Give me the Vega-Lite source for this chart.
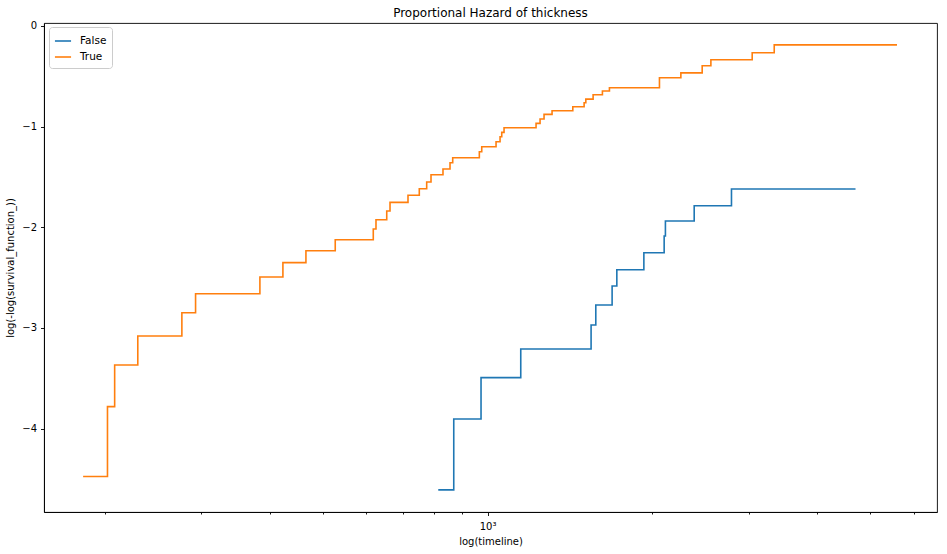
{
  "$schema": "https://vega.github.io/schema/vega-lite/v6.json",
  "width": 893,
  "height": 489,
  "autosize": "none",
  "padding": {"left": 44, "top": 23, "right": 10, "bottom": 42},
  "background": "white",
  "title": {
    "text": "Proportional Hazard of thickness",
    "fontSize": 12,
    "fontWeight": "normal",
    "font": "DejaVu Sans",
    "color": "black",
    "offset": 1
  },
  "data": {
    "values": [
      {"group": "False", "t": 812.9, "v": -4.608},
      {"group": "False", "t": 867.6, "v": -3.904},
      {"group": "False", "t": 973.0, "v": -3.494},
      {"group": "False", "t": 1149.8, "v": -3.209},
      {"group": "False", "t": 1545.3, "v": -2.971},
      {"group": "False", "t": 1576.2, "v": -2.772},
      {"group": "False", "t": 1688.1, "v": -2.584},
      {"group": "False", "t": 1721.9, "v": -2.422},
      {"group": "False", "t": 1929.1, "v": -2.253},
      {"group": "False", "t": 2100.9, "v": -2.087},
      {"group": "False", "t": 2112.0, "v": -1.938},
      {"group": "False", "t": 2383.6, "v": -1.787},
      {"group": "False", "t": 2788.0, "v": -1.621},
      {"group": "False", "t": 4696.0, "v": -1.621},
      {"group": "True", "t": 182.7, "v": -4.476},
      {"group": "True", "t": 202.4, "v": -3.782},
      {"group": "True", "t": 208.6, "v": -3.368},
      {"group": "True", "t": 229.9, "v": -3.080},
      {"group": "True", "t": 276.7, "v": -2.849},
      {"group": "True", "t": 293.1, "v": -2.660},
      {"group": "True", "t": 384.1, "v": -2.494},
      {"group": "True", "t": 423.1, "v": -2.352},
      {"group": "True", "t": 466.1, "v": -2.233},
      {"group": "True", "t": 527.2, "v": -2.124},
      {"group": "True", "t": 618.6, "v": -2.018},
      {"group": "True", "t": 625.7, "v": -1.926},
      {"group": "True", "t": 654.6, "v": -1.839},
      {"group": "True", "t": 663.7, "v": -1.753},
      {"group": "True", "t": 715.8, "v": -1.683},
      {"group": "True", "t": 750.6, "v": -1.618},
      {"group": "True", "t": 774.3, "v": -1.551},
      {"group": "True", "t": 788.5, "v": -1.479},
      {"group": "True", "t": 829.2, "v": -1.422},
      {"group": "True", "t": 854.1, "v": -1.360},
      {"group": "True", "t": 863.8, "v": -1.310},
      {"group": "True", "t": 966.1, "v": -1.251},
      {"group": "True", "t": 975.9, "v": -1.201},
      {"group": "True", "t": 1036.4, "v": -1.151},
      {"group": "True", "t": 1054.0, "v": -1.102},
      {"group": "True", "t": 1061.5, "v": -1.058},
      {"group": "True", "t": 1071.8, "v": -1.012},
      {"group": "True", "t": 1226.2, "v": -0.969},
      {"group": "True", "t": 1247.0, "v": -0.926},
      {"group": "True", "t": 1268.1, "v": -0.879},
      {"group": "True", "t": 1311.5, "v": -0.844},
      {"group": "True", "t": 1431.0, "v": -0.804},
      {"group": "True", "t": 1500.7, "v": -0.764},
      {"group": "True", "t": 1511.5, "v": -0.728},
      {"group": "True", "t": 1558.5, "v": -0.685},
      {"group": "True", "t": 1620.7, "v": -0.648},
      {"group": "True", "t": 1669.2, "v": -0.615},
      {"group": "True", "t": 2059.8, "v": -0.516},
      {"group": "True", "t": 2253.7, "v": -0.467},
      {"group": "True", "t": 2465.0, "v": -0.397},
      {"group": "True", "t": 2556.8, "v": -0.337},
      {"group": "True", "t": 3041.6, "v": -0.268},
      {"group": "True", "t": 3336.8, "v": -0.189},
      {"group": "True", "t": 5590.0, "v": -0.189}
    ]
  },
  "mark": {"type": "line", "interpolate": "step-after", "strokeWidth": 1.6, "clip": true},
  "encoding": {
    "x": {
      "field": "t",
      "type": "quantitative",
      "scale": {"type": "log", "domain": [155, 6614], "nice": false, "zero": false},
      "axis": {
        "title": "log(timeline)",
        "values": [200, 300, 400, 500, 600, 700, 800, 900, 1000, 2000, 3000, 4000, 5000, 6000],
        "labelExpr": "datum.value == 1000 ? '10³' : ''",
        "tickSize": {"expr": "datum.value == 1000 ? 3.5 : 2"},
        "labelPadding": 6,
        "titlePadding": 5
      }
    },
    "y": {
      "field": "v",
      "type": "quantitative",
      "scale": {"domain": [-4.828, 0.028], "nice": false, "zero": false},
      "axis": {
        "title": "log(-log(survival_function_))",
        "values": [-4, -3, -2, -1, 0],
        "labelExpr": "replace(format(datum.value, 'd'), '-', '−')",
        "tickSize": 3.5,
        "labelPadding": 4,
        "titlePadding": 6
      }
    },
    "color": {
      "field": "group",
      "type": "nominal",
      "scale": {"domain": ["False", "True"], "range": ["#1f77b4", "#ff7f0e"]},
      "legend": {
        "title": null,
        "orient": "none",
        "legendX": 5,
        "legendY": 4,
        "symbolType": "stroke",
        "symbolSize": 260,
        "symbolStrokeWidth": 1.6,
        "labelFontSize": 10.5,
        "labelColor": "black",
        "labelOffset": 8,
        "rowPadding": 1,
        "padding": 5,
        "fillColor": "white",
        "strokeColor": "#cccccc",
        "cornerRadius": 3
      }
    }
  },
  "config": {
    "font": "DejaVu Sans",
    "view": {"stroke": "black", "strokeWidth": 0.9},
    "axis": {
      "grid": false,
      "domainColor": "black",
      "domainWidth": 0.9,
      "tickColor": "black",
      "tickWidth": 0.9,
      "labelColor": "black",
      "labelFontSize": 10,
      "labelFont": "DejaVu Sans",
      "titleFont": "DejaVu Sans",
      "titleFontSize": 10,
      "titleFontWeight": "normal",
      "titleColor": "black"
    },
    "legend": {"labelFont": "DejaVu Sans"}
  }
}
